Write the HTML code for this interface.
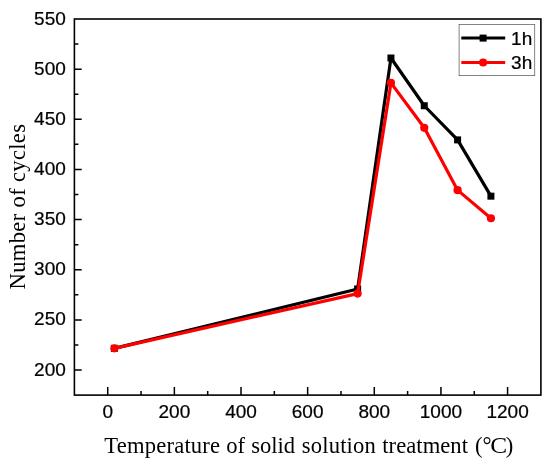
<!DOCTYPE html><html><head><meta charset="utf-8"><title>chart</title><style>html,body{margin:0;padding:0;background:#fff}svg{display:block}text{font-family:"Liberation Sans",sans-serif;fill:#000;stroke:#000;stroke-width:.22px}.s{font-family:"Liberation Serif",serif;stroke:none}</style></head><body>
<svg width="550" height="467" viewBox="0 0 550 467">
<rect width="550" height="467" fill="#fff"/>
<path d="M74.40 370.03h7.3M74.40 319.88h7.3M74.40 269.73h7.3M74.40 219.59h7.3M74.40 169.44h7.3M74.40 119.29h7.3M74.40 69.15h7.3M74.40 344.95h4M74.40 294.81h4M74.40 244.66h4M74.40 194.51h4M74.40 144.37h4M74.40 94.22h4M74.40 44.07h4M107.72 395.10v-8M174.36 395.10v-8M241.01 395.10v-8M307.65 395.10v-8M374.29 395.10v-8M440.94 395.10v-8M507.58 395.10v-8M141.04 395.10v-4M207.69 395.10v-4M274.33 395.10v-4M340.97 395.10v-4M407.61 395.10v-4M474.26 395.10v-4" stroke="#000" stroke-width="1.5" fill="none"/>
<rect x="74.4" y="19.0" width="466.50" height="376.10" fill="none" stroke="#000" stroke-width="1.6"/>
<text x="65.8" y="375.53" font-size="19" text-anchor="end">200</text>
<text x="65.8" y="325.38" font-size="19" text-anchor="end">250</text>
<text x="65.8" y="275.23" font-size="19" text-anchor="end">300</text>
<text x="65.8" y="225.09" font-size="19" text-anchor="end">350</text>
<text x="65.8" y="174.94" font-size="19" text-anchor="end">400</text>
<text x="65.8" y="124.79" font-size="19" text-anchor="end">450</text>
<text x="65.8" y="74.65" font-size="19" text-anchor="end">500</text>
<text x="65.8" y="24.50" font-size="19" text-anchor="end">550</text>
<text x="107.72" y="417.5" font-size="19" text-anchor="middle">0</text>
<text x="174.36" y="417.5" font-size="19" text-anchor="middle">200</text>
<text x="241.01" y="417.5" font-size="19" text-anchor="middle">400</text>
<text x="307.65" y="417.5" font-size="19" text-anchor="middle">600</text>
<text x="374.29" y="417.5" font-size="19" text-anchor="middle">800</text>
<text x="440.94" y="417.5" font-size="19" text-anchor="middle">1000</text>
<text x="507.58" y="417.5" font-size="19" text-anchor="middle">1200</text>
<text class="s" y="453.1" font-size="22.6"><tspan x="104.3" textLength="115.8">Temperature</tspan> <tspan x="226.25">of</tspan> <tspan x="251.2">solid</tspan> <tspan x="301.8" textLength="74">solution</tspan> <tspan x="382.2" textLength="85.8">treatment</tspan> <tspan x="475">(</tspan><tspan x="482.4">°</tspan></text>
<text class="s" transform="translate(490.2,453.1) scale(1.12,1)" font-size="22.6">C</text>
<text class="s" x="505.7" y="453.1" font-size="22.6">)</text>
<text class="s" transform="translate(25.1,206.7) rotate(-90)" font-size="22.6" text-anchor="middle" textLength="165.4">Number of cycles</text>
<polyline points="114.39,348.36 357.63,288.99 390.95,58.01 424.27,105.75 457.60,139.90 490.92,196.17" fill="none" stroke="#000" stroke-width="3.2" stroke-linejoin="round" stroke-linecap="round"/>
<rect x="110.89" y="344.86" width="7" height="7" fill="#000"/>
<rect x="354.13" y="285.49" width="7" height="7" fill="#000"/>
<rect x="387.45" y="54.51" width="7" height="7" fill="#000"/>
<rect x="420.77" y="102.25" width="7" height="7" fill="#000"/>
<rect x="454.10" y="136.40" width="7" height="7" fill="#000"/>
<rect x="487.42" y="192.67" width="7" height="7" fill="#000"/>
<polyline points="114.39,348.36 357.63,293.60 390.95,82.89 424.27,127.82 457.60,190.15 490.92,218.23" fill="none" stroke="#f00" stroke-width="3.2" stroke-linejoin="round" stroke-linecap="round"/>
<circle cx="114.39" cy="348.36" r="4.1" fill="#f00"/>
<circle cx="357.63" cy="293.60" r="4.1" fill="#f00"/>
<circle cx="390.95" cy="82.89" r="4.1" fill="#f00"/>
<circle cx="424.27" cy="127.82" r="4.1" fill="#f00"/>
<circle cx="457.60" cy="190.15" r="4.1" fill="#f00"/>
<circle cx="490.92" cy="218.23" r="4.1" fill="#f00"/>
<rect x="459.1" y="24.4" width="75.6" height="51.2" fill="#fff" stroke="#666" stroke-width="0.8"/>
<path d="M461.3 38.1H505.2" stroke="#000" stroke-width="3"/><rect x="479.6" y="34.6" width="7" height="7" fill="#000"/>
<path d="M461.3 62.5H505.2" stroke="#f00" stroke-width="3"/><circle cx="483.1" cy="62.5" r="4.1" fill="#f00"/>
<text x="511.1" y="44.8" font-size="19">1h</text>
<text x="511.1" y="69.2" font-size="19">3h</text>
</svg></body></html>
